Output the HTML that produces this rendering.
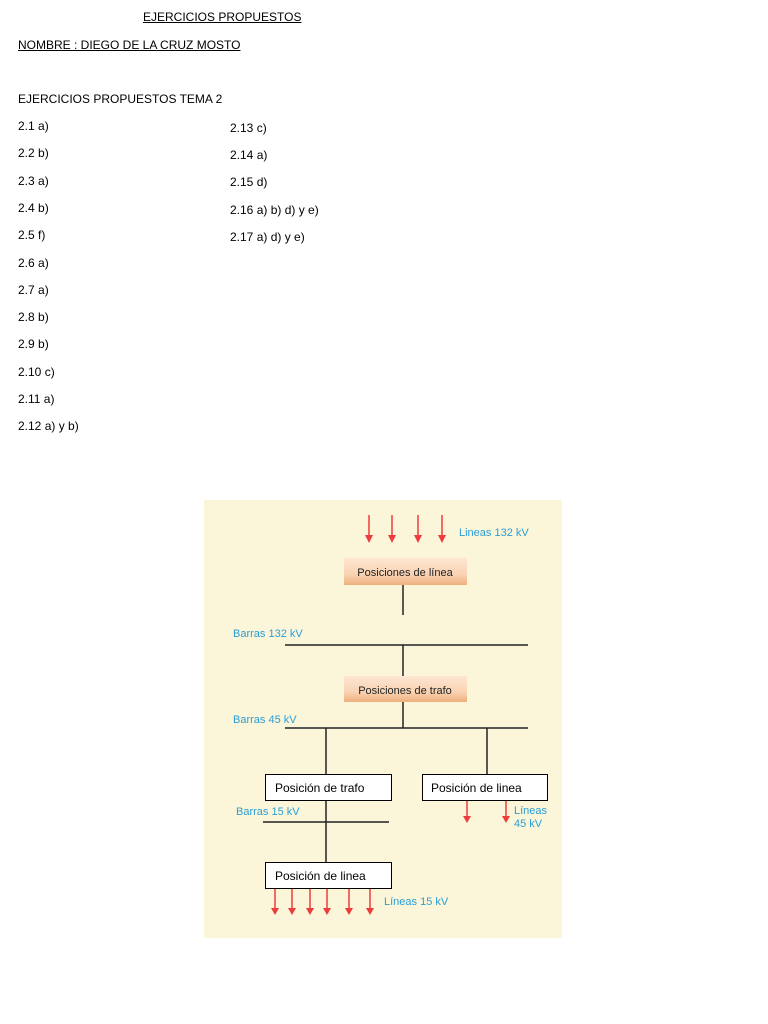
<!DOCTYPE html>
<html><head><meta charset="utf-8"><style>
body{margin:0;width:768px;height:1024px;background:#fff;position:relative;font-family:"Liberation Sans",sans-serif;font-size:12px;color:#000}
.t{position:absolute;line-height:14px;white-space:nowrap}
u{text-decoration:underline}
</style></head><body>
<div class="t" style="left:143px;top:10px"><u>EJERCICIOS PROPUESTOS </u></div>
<div class="t" style="left:18px;top:38px"><u>NOMBRE : DIEGO DE LA CRUZ MOSTO </u></div>
<div class="t" style="left:18px;top:92px">EJERCICIOS PROPUESTOS TEMA 2</div>
<div class="t" style="left:18px;top:119px">2.1 a)</div>
<div class="t" style="left:18px;top:146px">2.2 b)</div>
<div class="t" style="left:18px;top:174px">2.3 a)</div>
<div class="t" style="left:18px;top:201px">2.4 b)</div>
<div class="t" style="left:18px;top:228px">2.5 f)</div>
<div class="t" style="left:18px;top:256px">2.6 a)</div>
<div class="t" style="left:18px;top:283px">2.7 a)</div>
<div class="t" style="left:18px;top:310px">2.8 b)</div>
<div class="t" style="left:18px;top:337px">2.9 b)</div>
<div class="t" style="left:18px;top:365px">2.10 c)</div>
<div class="t" style="left:18px;top:392px">2.11 a)</div>
<div class="t" style="left:18px;top:419px">2.12 a) y b)</div>
<div class="t" style="left:230px;top:121px">2.13 c)</div>
<div class="t" style="left:230px;top:148px">2.14 a)</div>
<div class="t" style="left:230px;top:175px">2.15 d)</div>
<div class="t" style="left:230px;top:203px">2.16 a) b) d) y e)</div>
<div class="t" style="left:230px;top:230px">2.17 a) d) y e)</div>
<svg style="position:absolute;left:0;top:0" width="768" height="1024">
<defs>
<linearGradient id="g" x1="0" y1="0" x2="0" y2="1"><stop offset="0" stop-color="#fde6d2"/><stop offset="0.6" stop-color="#f9d3b3"/><stop offset="1" stop-color="#eeb07f"/></linearGradient>
<marker id="a" markerWidth="8" markerHeight="8" refX="4" refY="6" orient="auto-start-reverse" markerUnits="userSpaceOnUse"><path d="M0,0 L8,0 L4,7 z" fill="#ee3b3b"/></marker>
</defs>
<rect x="204" y="500" width="358" height="438" fill="#fbf5d9"/>
<g stroke="#ee3b3b" stroke-width="1.5" fill="none">
<line x1="369" y1="515" x2="369" y2="537"/><path d="M365,535 L373,535 L369,543z" fill="#ee3b3b" stroke="none"/>
<line x1="392" y1="515" x2="392" y2="537"/><path d="M388,535 L396,535 L392,543z" fill="#ee3b3b" stroke="none"/>
<line x1="418" y1="515" x2="418" y2="537"/><path d="M414,535 L422,535 L418,543z" fill="#ee3b3b" stroke="none"/>
<line x1="442" y1="515" x2="442" y2="537"/><path d="M438,535 L446,535 L442,543z" fill="#ee3b3b" stroke="none"/>
<line x1="467" y1="800" x2="467" y2="816"/><path d="M463,816 L471,816 L467,823z" fill="#ee3b3b" stroke="none"/>
<line x1="506" y1="800" x2="506" y2="816"/><path d="M502,816 L510,816 L506,823z" fill="#ee3b3b" stroke="none"/>
<line x1="275" y1="888" x2="275" y2="908"/><path d="M271,908 L279,908 L275,915z" fill="#ee3b3b" stroke="none"/>
<line x1="292" y1="888" x2="292" y2="908"/><path d="M288,908 L296,908 L292,915z" fill="#ee3b3b" stroke="none"/>
<line x1="310" y1="888" x2="310" y2="908"/><path d="M306,908 L314,908 L310,915z" fill="#ee3b3b" stroke="none"/>
<line x1="327" y1="888" x2="327" y2="908"/><path d="M323,908 L331,908 L327,915z" fill="#ee3b3b" stroke="none"/>
<line x1="349" y1="888" x2="349" y2="908"/><path d="M345,908 L353,908 L349,915z" fill="#ee3b3b" stroke="none"/>
<line x1="370" y1="888" x2="370" y2="908"/><path d="M366,908 L374,908 L370,915z" fill="#ee3b3b" stroke="none"/>
</g>
<g stroke="#222" stroke-width="1.5">
<line x1="403" y1="585" x2="403" y2="615"/>
<line x1="285" y1="645" x2="528" y2="645"/>
<line x1="403" y1="645" x2="403" y2="676"/>
<line x1="403" y1="702" x2="403" y2="728"/>
<line x1="285" y1="728" x2="528" y2="728"/>
<line x1="326" y1="728" x2="326" y2="774"/>
<line x1="487" y1="728" x2="487" y2="774"/>
<line x1="263" y1="822" x2="389" y2="822"/>
<line x1="326" y1="800" x2="326" y2="862"/>
</g>
<rect x="344" y="558" width="123" height="27" fill="url(#g)"/>
<rect x="344" y="676" width="123" height="26" fill="url(#g)"/>
<rect x="265.5" y="774.5" width="126" height="26" fill="#fff" stroke="#000"/>
<rect x="422.5" y="774.5" width="125" height="26" fill="#fff" stroke="#000"/>
<rect x="265.5" y="862.5" width="126" height="26" fill="#fff" stroke="#000"/>
<g font-family="Liberation Sans, sans-serif" font-size="11">
<text x="405" y="576" text-anchor="middle" fill="#222">Posiciones de línea</text>
<text x="405" y="694" text-anchor="middle" fill="#222">Posiciones de trafo</text>
<g fill="#2a9fd6">
<text x="459" y="536">Lineas 132 kV</text>
<text x="233" y="637">Barras 132 kV</text>
<text x="233" y="723">Barras 45 kV</text>
<text x="236" y="815">Barras 15 kV</text>
<text x="514" y="814">Líneas</text>
<text x="514" y="827">45 kV</text>
<text x="384" y="905">Líneas 15 kV</text>
</g>
<text x="275" y="792" font-size="12" fill="#000">Posición de trafo</text>
<text x="431" y="792" font-size="12" fill="#000">Posición de linea</text>
<text x="275" y="880" font-size="12" fill="#000">Posición de linea</text>
</g>
</svg>
</body></html>
